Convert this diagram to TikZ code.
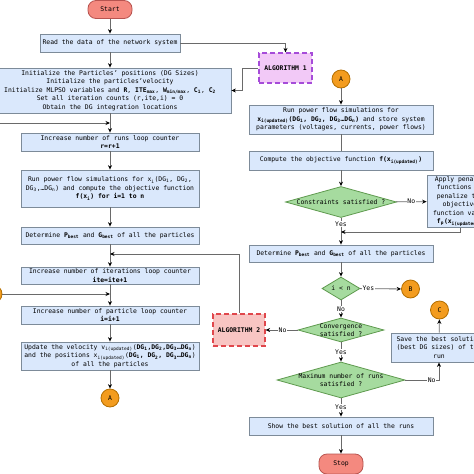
\documentclass[tikz,border=0pt]{standalone}
\usepackage{fontspec}
\usepackage{xcolor}
\usepackage{tikz}
\usetikzlibrary{shapes.geometric, arrows.meta, positioning, calc}
\newfontfamily\flowfont{DejaVu Sans Mono}

\definecolor{boxfill}{HTML}{DAE8FC}
\definecolor{boxline}{HTML}{7D8B99}
\definecolor{termfill}{HTML}{F4897F}
\definecolor{termline}{HTML}{B85450}
\definecolor{decfill}{HTML}{A6DB9F}
\definecolor{decline}{HTML}{5F9A4F}
\definecolor{algonefill}{HTML}{F2C9F7}
\definecolor{algoneline}{HTML}{A64CD9}
\definecolor{algtwofill}{HTML}{F8C5C3}
\definecolor{algtwoline}{HTML}{E0474C}
\definecolor{connfill}{HTML}{F39C1F}
\definecolor{connline}{HTML}{B46F00}
\definecolor{flowline}{HTML}{6A6A6A}

\begin{document}
\begin{tikzpicture}[x=1pt, y=-1pt,
    every node/.style={font=\flowfont\fontsize{6.4}{8.5}\selectfont},
    procbox/.style 2 args={rectangle, draw=boxline, fill=boxfill, line width=0.8pt,
        align=center, inner sep=1pt, minimum width=#1, minimum height=#2},
    termbox/.style={rectangle, rounded corners=8pt, draw=termline, fill=termfill,
        line width=0.8pt, minimum width=44pt, minimum height=18pt},
    decision/.style 2 args={diamond, draw=decline, fill=decfill, line width=0.8pt,
        align=center, inner sep=-6pt, aspect=3.6, minimum width=#1, minimum height=#2},
    algbox/.style 2 args={rectangle, draw=#1, fill=#2, line width=1.2pt,
        dash pattern=on 5pt off 3pt, minimum width=52pt, minimum height=31pt},
    conn/.style={circle, draw=connline, fill=connfill, line width=0.8pt,
        minimum size=18pt, inner sep=0pt},
    flow/.style={draw=flowline, line width=0.8pt,
        -{Stealth[length=4.5pt, width=4pt, color=black]}},
    link/.style={draw=flowline, line width=0.8pt},
    lbl/.style={fill=white, inner sep=0.5pt}]

    \useasboundingbox (0,0) rectangle (474,474);

    % Left column
    \node[termbox] (start) at (110,9.5) {Start};
    \node[procbox={140pt}{18pt}] (read) at (110,43) {Read the data of the network system};
    \node[procbox={242pt}{45pt}] (init) at (110,90.5) {Initialize the Particles’ positions (DG Sizes)\\
        Initialize the particles’velocity\\
        Initialize MLPSO variables and \textbf{R}, \textbf{ITE\textsubscript{max}}, \textbf{W\textsubscript{min/max}}, \textbf{C\textsubscript{1}}, \textbf{C\textsubscript{2}}\\
        Set all iteration counts (r,ite,i) = 0\\
        Obtain the DG integration locations};
    \node[procbox={178pt}{18pt}] (runs) at (110,142) {Increase number of runs loop counter\\ \textbf{r=r+1}};
    \node[procbox={178pt}{37pt}] (runpf) at (110,188.5) {Run power flow simulations for x\textsubscript{i}(DG\textsubscript{1}, DG\textsubscript{2},\\
        DG\textsubscript{3},…DG\textsubscript{n}) and compute the objective function\\
        \textbf{f(x\textsubscript{i}) for i=1 to n}};
    \node[procbox={178pt}{17pt}] (best) at (110,235.5) {Determine \textbf{P\textsubscript{best}} and \textbf{G\textsubscript{best}} of all the particles};
    \node[procbox={178pt}{17pt}] (iters) at (110,275.5) {Increase number of  iterations loop counter\\ \textbf{ite=ite+1}};
    \node[procbox={178pt}{18pt}] (parts) at (110,315) {Increase number of particle loop counter\\ \textbf{i=i+1}};
    \node[procbox={178pt}{28pt}] (update) at (110,356) {Update the velocity v\textsubscript{i(updated)}(\textbf{DG\textsubscript{1},DG\textsubscript{2},DG\textsubscript{3}…DG\textsubscript{n}})\\
        and the positions x\textsubscript{i(updated)}(\textbf{DG\textsubscript{1}, DG\textsubscript{2}, DG\textsubscript{3}…DG\textsubscript{n}})\\
        of all the particles};
    \node[conn] (aout) at (110,398) {A};
    \node[conn] (bin) at (-7,294) {};
    \coordinate (cin) at (-20,123);
    \coordinate (jruns) at (110,123);
    \coordinate (jiter) at (110,254);
    \coordinate (jpart) at (110,294);

    % Right column
    \node[algbox={algoneline}{algonefill}, minimum width=53pt, minimum height=30pt] (alg1) at (285.5,68) {\textbf{ALGORITHM 1}};
    \node[conn] (ain) at (341,79) {A};
    \node[procbox={184pt}{29pt}] (runpf2) at (341,119.5) {Run power flow simulations for\\
        \textbf{x\textsubscript{i(updated)}(DG\textsubscript{1}, DG\textsubscript{2}, DG\textsubscript{3}…DG\textsubscript{n})} and store system\\
        parameters (voltages, currents, power flows)};
    \node[procbox={184pt}{19pt}] (objf) at (341,160.5) {Compute the objective function \textbf{f(x\textsubscript{i(updated)})}};
    \node[decision={111pt}{31pt}] (constr) at (341,202) {Constraints satisfied ?};
    \node[procbox={66pt}{51pt}] (penal) at (460,201.5) {Apply penalty\\ functions to\\ penalize the\\ objective\\ function value\\
        \textbf{f\textsubscript{p}(x\textsubscript{i(updated)})}};
    \node[procbox={184pt}{17pt}] (best2) at (341,253.5) {Determine \textbf{P\textsubscript{best}} and \textbf{G\textsubscript{best}} of all the particles};
    \node[decision={38pt}{23pt}] (iless) at (341,288.5) {i < n};
    \node[conn] (bout) at (410.5,289) {B};
    \node[decision={86pt}{24pt}] (conv) at (341,330) {Convergence\\ satisfied ?};
    \node[algbox={algtwoline}{algtwofill}, minimum height=32pt] (alg2) at (239,330) {\textbf{ALGORITHM 2}};
    \node[decision={128pt}{36pt}] (maxr) at (341,380) {Maximum number of runs\\ satisfied ?};
    \node[procbox={96pt}{29pt}] (save) at (439,347.5) {Save the best solution\\ (best DG sizes) of the\\ run};
    \node[conn] (cout) at (439.5,310) {C};
    \node[procbox={184pt}{18pt}] (show) at (341,426) {Show the best solution of all the runs};
    \node[termbox, minimum height=20pt] (stop) at (341,464) {Stop};
    \coordinate (jpen) at (341,232);

    % Left connectors
    \draw[flow] (start) -- (read);
    \draw[flow] (read) -- (init);
    \draw[flow] (read.east) -| (alg1.north);
    \draw[flow] (alg1.west) -- ++(-16,0) |- (init.east);
    \draw[flow] (init) -- (runs);
    \draw[flow] (cin) -- (jruns);
    \draw[flow] (runs) -- (runpf);
    \draw[flow] (runpf) -- (best);
    \draw[flow] (best) -- (iters);
    \draw[flow] (alg2.north) |- (jiter);
    \draw[flow] (iters) -- (parts);
    \draw[flow] (bin) -- (jpart);
    \draw[flow] (parts) -- (update);
    \draw[flow] (update) -- (aout);

    % Right connectors
    \draw[flow] (ain) -- (runpf2);
    \draw[link] (runpf2) -- (objf);
    \draw[flow] (objf) -- (constr);
    \draw[flow] (constr) -- node[lbl] {No} (penal);
    \draw[flow] (constr) -- node[lbl, pos=0.22] {Yes} (best2);
    \draw[flow] (penal.south) |- (jpen);
    \draw[flow] (best2) -- (iless);
    \draw[flow] (iless) -- node[lbl, pos=0.2] {Yes} (bout);
    \draw[flow] (iless) -- node[lbl] {No} (conv);
    \draw[flow] (conv) -- node[lbl, pos=0.47] {No} (alg2);
    \draw[flow] (conv) -- node[lbl] {Yes} (maxr);
    \draw[flow] (maxr.east) -| node[lbl, pos=0.39] {No} (save.south);
    \draw[flow] (save) -- (cout);
    \draw[flow] (maxr) -- node[lbl, pos=0.47] {Yes} (show);
    \draw[flow] (show) -- (stop);
\end{tikzpicture}
\end{document}
